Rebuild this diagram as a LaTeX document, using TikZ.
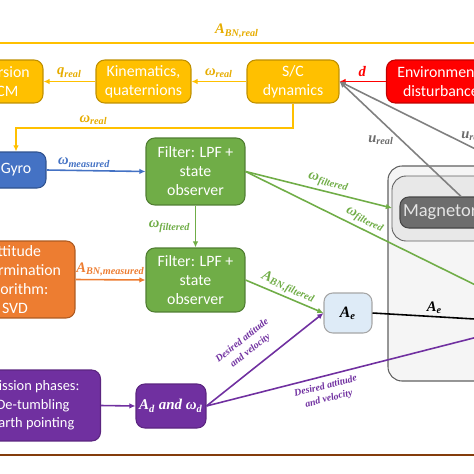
\documentclass[tikz,border=0pt]{standalone}
\usepackage{fontspec}
\setmainfont{Carlito}
\newfontfamily\lblfont{Liberation Serif}
\usetikzlibrary{arrows.meta}
\definecolor{ylw}{HTML}{FFC000}
\definecolor{ylwd}{HTML}{BF9000}
\definecolor{ylwt}{HTML}{E6AC00}
\definecolor{rdd}{HTML}{C00000}
\definecolor{blu}{HTML}{4472C4}
\definecolor{blud}{HTML}{2F528F}
\definecolor{grn}{HTML}{70AD47}
\definecolor{grnd}{HTML}{507E32}
\definecolor{org}{HTML}{ED7D31}
\definecolor{orgd}{HTML}{AE5A21}
\definecolor{prp}{HTML}{7030A0}
\definecolor{prpd}{HTML}{5B2580}
\definecolor{brn}{HTML}{843C0C}
\definecolor{aefill}{HTML}{DEEBF7}
% bold italic label with a subscript
\newcommand\sublbl[2]{{\lblfont\bfseries\itshape #1\textsubscript{#2}}}
\tikzset{
  blk/.style={draw, rounded corners=5pt, align=center, text=white, inner sep=0pt,
    line width=0.6pt, font=\fontsize{9}{10.8}\selectfont},
  ybox/.style={blk, fill=ylw, draw=ylwd},
  gbox/.style={blk, fill=grn, draw=grnd},
  pbox/.style={blk, fill=prp, draw=prpd},
  wire/.style={line width=0.9pt},
  lbl/.style={font=\fontsize{8.3}{9}\selectfont, inner sep=1.5pt},
  dsr/.style={font=\lblfont\bfseries\itshape\fontsize{5.6}{7.4}\selectfont, align=center, text=prp, inner sep=1pt},
}
\begin{document}
\begin{tikzpicture}[x=0.02cm, y=-0.02cm, >={Latex[length=3.5pt,width=3.2pt]}]
  \useasboundingbox (0,0) rectangle (474,474);
  \clip (0,0) rectangle (474,474);
  % top row
  \node[ybox, minimum width=1.96cm, minimum height=0.86cm] (conv) at (-6,81.5) {Conversion\\to DCM};
  \node[ybox, minimum width=1.9cm, minimum height=0.86cm] (kin) at (143.5,81.5) {Kinematics,\\quaternions};
  \node[ybox, minimum width=1.84cm, minimum height=0.86cm] (sc) at (293,81.5) {S/C\\dynamics};
  \node[blk, fill=red, draw=rdd, minimum width=2.3cm, minimum height=0.86cm] (env) at (444,81.5) {Environmental\\disturbances};
  % sensors and filters
  \node[blk, fill=blu, draw=blud, minimum width=1.2cm, minimum height=0.72cm] (gyro) at (16,170) {Gyro};
  \node[gbox, minimum width=1.98cm, minimum height=1.34cm] (filt1) at (195.5,171.5) {Filter: LPF +\\state\\observer};
  \node[gbox, minimum width=1.98cm, minimum height=1.28cm] (filt2) at (195.5,280) {Filter: LPF +\\state\\observer};
  \node[blk, fill=org, draw=orgd, minimum width=2.4cm, minimum height=1.54cm] (adet) at (15,279.5) {Attitude\\determination\\algorithm:\\SVD};
  \node[pbox, font=\fontsize{8.2}{10.6}\selectfont, minimum width=2.7cm, minimum height=1.42cm] (miss) at (33,405.5) {Mission phases:\\De-tumbling\\Earth pointing};
  \node[pbox, font=\lblfont\bfseries\itshape\fontsize{8.5}{10}\selectfont, minimum width=1.4cm, minimum height=0.88cm] (adw) at (171,406) {A\textsubscript{d} and ω\textsubscript{d}};
  \node[blk, fill=aefill, draw=gray!70, text=black, font=\fontsize{9}{10}\selectfont, minimum width=0.96cm, minimum height=0.8cm] (ae) at (348,313) {\sublbl{A}{e}};
  % controller block
  \draw[rounded corners=8pt, fill=gray!8, draw=gray!75!black, line width=0.6pt] (388,166) rectangle (600,381);
  \draw[rounded corners=8pt, fill=gray!18, draw=gray!75!black, line width=0.5pt] (392,176) rectangle (590,241);
  \node[blk, fill=gray!65!black!85, draw=gray!55!black, text=gray!20, font=\fontsize{10.5}{12}\selectfont, minimum width=2.44cm, minimum height=0.62cm] (mag) at (461,212.5) {Magnetorquers};
  \coordinate (top1) at (0,43);
  \coordinate (top2) at (474,43);
  \coordinate (fbk) at (0,128);
  \coordinate (magin) at (392,208);
  \coordinate (wout) at (520,307);
  \coordinate (dout) at (560,316);
  \coordinate (aeout) at (560,324);
  \coordinate (uout) at (560,191);
  \coordinate (bot1) at (0,455);
  \coordinate (bot2) at (474,455);
  % yellow loop
  \draw[wire, ylw] (top1) -- (top2) node[midway, above=1pt, lbl, text=ylwt] {\sublbl{A}{BN,real}};
  \draw[wire, ylw, ->] (kin.west) -- (conv.east) node[midway, above, lbl, text=ylwt] {\sublbl{q}{real}};
  \draw[wire, ylw, ->] (sc.west) -- (kin.east) node[midway, above, lbl, text=ylwt] {\sublbl{ω}{real}};
  \draw[wire, ylw, ->] (sc.south) -- (sc.south |- fbk) -| (gyro.north) node[pos=0.36, above, lbl, text=ylwt] {\sublbl{ω}{real}};
  \draw[wire, red, ->] (env.west) -- (sc.east) node[midway, above, lbl, text=red] {\sublbl{d}{}};
  % actuator torques
  \draw[wire, gray, ->] (mag.north) -- (sc.east);
  \draw[wire, gray, ->] (uout) -- (sc.east);
  \node[lbl, text=gray!85!black] (ur1) at (381,140) {\sublbl{u}{real}};
  \node[lbl, text=gray!85!black] (ur2) at (474,136) {\sublbl{u}{real}};
  % measurements
  \draw[wire, blu, ->] (gyro.east) -- (filt1.west) node[pos=0.38, above, lbl, text=blu] {\sublbl{ω}{measured}};
  \draw[wire, org, ->] (adet.east) -- (filt2.west) node[midway, above, lbl, text=org] {\sublbl{A}{BN,measured}};
  \draw[wire, grn, ->] (filt1.south) -- (filt2.north) node[midway, left=1pt, lbl, text=grn] {\sublbl{ω}{filtered}};
  \draw[wire, grn, ->] (filt1.east) -- (magin) node[pos=0.55, sloped, above, lbl, text=grn] {\sublbl{ω}{filtered}};
  \draw[wire, grn] (filt1.east) -- (wout) node[pos=0.42, sloped, above, lbl, text=grn] {\sublbl{ω}{filtered}};
  \draw[wire, grn, ->] (filt2.east) -- (ae.west) node[midway, sloped, above, lbl, text=grn] {\sublbl{A}{BN,filtered}};
  % reference
  \draw[wire, prp, ->] (miss.east) -- (adw.west);
  \draw[wire, prp, ->] (adw.east) -- (ae.west) node[pos=0.46, sloped, above=5pt, dsr] {Desired attitude\\and velocity};
  \draw[wire, prp] (adw.east) -- (dout) node[pos=0.33, sloped, below=2pt, dsr] {Desired attitude\\and velocity};
  \draw[wire, black] (ae.east) -- (aeout) node[pos=0.33, above, lbl] {\sublbl{A}{e}};
  \draw[brn, line width=0.9pt] (bot1) -- (bot2);
\end{tikzpicture}
\end{document}
